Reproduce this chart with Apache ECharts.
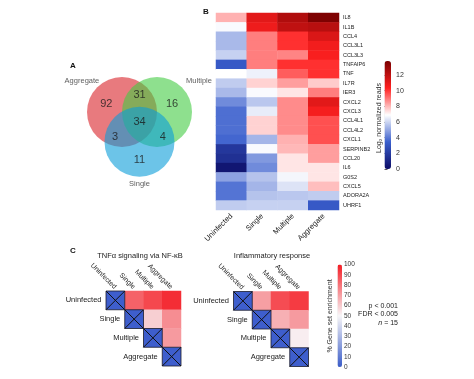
<!DOCTYPE html>
<html><head><meta charset="utf-8">
<script src="https://cdn.jsdelivr.net/npm/echarts@6/dist/echarts.min.js"></script>
<style>html,body{margin:0;padding:0;background:#fff}#c{width:474px;height:379px}</style>
</head><body><div id="c"></div>
<script>
// ---- Panel A: Venn ----
const vennSets = ['Aggregate', 'Multiple', 'Single'];
const vennCircles = [[-1, 0, 2], [1, 0, 2], [0, -1.7, 2]]; // [cx, cy, r] in abstract units
const vennColors = ['rgba(217,33,40,0.6)', 'rgba(67,203,67,0.6)', 'rgba(10,157,217,0.6)'];
const vennCounts = [92, 31, 16, 34, 3, 4, 11];
const vennCountPos = [[-1.9, 0.46], [0, 1.0], [1.86, 0.46], [0, -0.59], [-1.4, -1.41], [1.33, -1.41], [0, -2.74]];
const vennLabelPos = [[-3.29, 1.79], [3.4, 1.79], [0, -4.13]];

// ---- Panel B: heatmap ----
const conditions = ['Uninfected', 'Single', 'Multiple', 'Aggregate'];
const genes = ['IL8','IL1B','CCL4','CCL3L1','CCL3L3','TNFAIP6','TNF','IL7R','IER3','CXCL2','CXCL3','CCL4L1','CCL4L2','CXCL1','SERPINB2','CCL20','IL6','G0S2','CXCL5','ADORA2A','UHRF1'];
const uninfected = [8.1,6.8,5.4,5.4,5.9,3.2,6.9,5.8,5.4,4.4,3.8,3.8,3.8,3.6,1.8,1.5,0.4,4.9,3.9,3.9,5.8];
const single     = [11.1,10.8,8.9,8.9,8.9,8.9,6.6,7.6,6.8,5.7,6.5,7.6,7.6,5.3,6.8,4.7,4.4,5.6,5.3,5.6,5.9];
const multiple   = [12.4,12.0,10.1,10.1,8.8,10.1,9.4,8.4,7.3,8.7,8.7,8.7,8.7,8.1,8.0,7.3,7.3,6.7,6.3,5.7,5.9];
const aggregate  = [13.7,12.2,11.3,10.7,10.5,10.1,10.1,7.7,8.9,11.1,10.6,9.6,9.6,9.6,8.4,8.4,7.3,7.3,7.9,5.8,3.2];
const readTicks = [0, 2, 4, 6, 8, 10, 12];
const readMax = 13.8;

// ---- Panel C: pairwise gene set enrichment (%) ----
const tnfSignaling = [['Single','Uninfected',84],['Multiple','Uninfected',90],['Aggregate','Uninfected',96],
                      ['Multiple','Single',59],['Aggregate','Single',74],['Aggregate','Multiple',71]];
const inflammatory = [['Single','Uninfected',70],['Multiple','Uninfected',89],['Aggregate','Uninfected',93],
                      ['Multiple','Single',66],['Aggregate','Single',71],['Aggregate','Multiple',52]];
const enrichTicks = [0,10,20,30,40,50,60,70,80,90,100];

const FONT = 'Liberation Sans, Arial, sans-serif';
const chart = echarts.init(document.getElementById('c'), null, {renderer: 'canvas'});

const heatB = [];
[uninfected, single, multiple, aggregate].forEach((col, ci) => col.forEach((v, gi) => heatB.push([ci, gi, v])));
const diagData = conditions.map(c => [c, c]);

function diagItem(params, api) {
  const c = api.coord([api.value(0), api.value(1)]);
  const s = api.size([1, 1]);
  const x0 = c[0] - s[0] / 2, y0 = c[1] - s[1] / 2;
  return {type: 'group', children: [
    {type: 'rect', shape: {x: x0, y: y0, width: s[0], height: s[1]}, style: {fill: '#3e5ecd', stroke: '#1a1a2a', lineWidth: 0.8}},
    {type: 'line', shape: {x1: x0, y1: y0, x2: x0 + s[0], y2: y0 + s[1]}, style: {stroke: '#111', lineWidth: 1}},
    {type: 'line', shape: {x1: x0 + s[0], y1: y0, x2: x0, y2: y0 + s[1]}, style: {stroke: '#111', lineWidth: 1}},
    {type: 'text', style: {text: conditions[api.value(1)], x: x0 - 4.5, y: c[1], align: 'right', verticalAlign: 'middle', fontSize: 7.5, fontFamily: FONT, fill: '#222'}}
  ]};
}

const hidden = {show: false};
const catX = (grid) => ({type: 'category', gridIndex: grid, data: conditions, position: 'top',
  axisLine: hidden, axisTick: hidden, splitLine: hidden,
  axisLabel: {rotate: 45, fontSize: 7, fontFamily: FONT, color: '#222', margin: 3, interval: 0}});
const catY = (grid) => ({type: 'category', gridIndex: grid, data: conditions, inverse: true,
  axisLine: hidden, axisTick: hidden, axisLabel: hidden, splitLine: hidden});

const option = {
  backgroundColor: '#fff',
  animation: false,
  grid: [
    {left: 69.5, top: 73.5, width: 140, height: 117.25},   // venn
    {left: 216, top: 13, width: 123, height: 197},         // heatmap B
    {left: 106, top: 291, width: 75, height: 75},          // C1
    {left: 233.5, top: 291.5, width: 75, height: 75},      // C2
    {left: 384.5, top: 61, width: 6.5, height: 108},       // colorbar B axis
    {left: 337.5, top: 264.5, width: 4.5, height: 102.5}   // colorbar C axis
  ],
  xAxis: [
    {type: 'value', gridIndex: 0, min: -4, max: 4, show: false},
    {type: 'category', gridIndex: 1, data: conditions, axisLine: hidden, axisTick: hidden,
     axisLabel: {rotate: 45, fontSize: 7.5, fontFamily: FONT, color: '#222', margin: 5, interval: 0}},
    catX(2), catX(3),
    {type: 'value', gridIndex: 4, show: false},
    {type: 'value', gridIndex: 5, show: false}
  ],
  yAxis: [
    {type: 'value', gridIndex: 0, min: -4.5, max: 2.2, show: false},
    {type: 'category', gridIndex: 1, data: genes, inverse: true, position: 'right',
     axisLine: hidden, axisTick: hidden,
     axisLabel: {fontSize: 5.5, fontFamily: FONT, color: '#222', margin: 4, interval: 0}},
    catY(2), catY(3),
    {type: 'value', gridIndex: 4, min: 0, max: readMax, position: 'right', splitLine: hidden, axisLine: hidden,
     axisTick: {show: true, length: 3, customValues: readTicks, lineStyle: {color: '#333', width: 0.8}},
     axisLabel: {fontSize: 7, fontFamily: FONT, color: '#333', margin: 5, customValues: readTicks}},
    {type: 'value', gridIndex: 5, min: 0, max: 100, interval: 10, position: 'right', splitLine: hidden,
     axisLine: hidden, axisTick: hidden,
     axisLabel: {fontSize: 6.5, fontFamily: FONT, color: '#333', margin: 2, customValues: enrichTicks}}
  ],
  visualMap: [
    {type: 'continuous', seriesIndex: 3, dimension: 2, min: 0, max: readMax, calculable: false,
     left: 384.5, top: 61, itemWidth: 6.5, itemHeight: 108, padding: 0, orient: 'vertical', hoverLink: false,
     inRange: {color: ['#0c0c66', '#3a5fcd', '#ffffff', '#ff2020', '#7a0000']}},
    {type: 'continuous', seriesIndex: [4, 6], dimension: 2, min: 0, max: 100, calculable: false,
     left: 337.5, top: 264.5, itemWidth: 4.5, itemHeight: 102.5, padding: 0, orient: 'vertical', hoverLink: false,
     inRange: {color: ['#3a5cc8', '#f8f6f8', '#f41c24']}}
  ],
  series: [
    {type: 'custom', xAxisIndex: 0, yAxisIndex: 0, data: vennCircles, silent: true,
     renderItem: (params, api) => {
       const c = api.coord([api.value(0), api.value(1)]);
       const r = api.size([api.value(2), 0])[0];
       return {type: 'circle', shape: {cx: c[0], cy: c[1], r: r}, style: {fill: vennColors[params.dataIndex]}};
     }},
    {type: 'scatter', xAxisIndex: 0, yAxisIndex: 0, symbolSize: 0, silent: true,
     data: vennCounts.map((v, i) => ({value: vennCountPos[i], name: String(v)})),
     label: {show: true, position: 'inside', formatter: '{b}', fontSize: 11, fontFamily: FONT, color: '#1a1a1a'}},
    {type: 'scatter', xAxisIndex: 0, yAxisIndex: 0, symbolSize: 0, silent: true,
     data: vennSets.map((s, i) => ({value: vennLabelPos[i], name: s})),
     label: {show: true, position: 'inside', formatter: '{b}', fontSize: 7.5, fontFamily: FONT, color: '#333'}},
    {type: 'heatmap', xAxisIndex: 1, yAxisIndex: 1, data: heatB, silent: true},
    {type: 'heatmap', xAxisIndex: 2, yAxisIndex: 2, data: tnfSignaling, silent: true},
    {type: 'custom', xAxisIndex: 2, yAxisIndex: 2, data: diagData, renderItem: diagItem, silent: true},
    {type: 'heatmap', xAxisIndex: 3, yAxisIndex: 3, data: inflammatory, silent: true},
    {type: 'custom', xAxisIndex: 3, yAxisIndex: 3, data: diagData, renderItem: diagItem, silent: true}
  ],
  graphic: [
    {type: 'text', x: 73, y: 66, style: {text: 'A', fontSize: 8, fontWeight: 'bold', fontFamily: FONT, fill: '#111', align: 'center', verticalAlign: 'middle'}},
    {type: 'text', x: 206, y: 12, style: {text: 'B', fontSize: 8, fontWeight: 'bold', fontFamily: FONT, fill: '#111', align: 'center', verticalAlign: 'middle'}},
    {type: 'text', x: 73, y: 251, style: {text: 'C', fontSize: 8, fontWeight: 'bold', fontFamily: FONT, fill: '#111', align: 'center', verticalAlign: 'middle'}},
    {type: 'text', x: 140, y: 256, style: {text: 'TNFα signaling via NF-κB', fontSize: 7.5, fontFamily: FONT, fill: '#222', align: 'center', verticalAlign: 'middle'}},
    {type: 'text', x: 272, y: 256, style: {text: 'Inflammatory response', fontSize: 7.5, fontFamily: FONT, fill: '#222', align: 'center', verticalAlign: 'middle'}},
    {type: 'text', x: 379, y: 118, rotation: Math.PI / 2, style: {text: 'Log₂ normalized reads', fontSize: 7, fontFamily: FONT, fill: '#333', align: 'center', verticalAlign: 'middle'}},
    {type: 'text', x: 330, y: 316, rotation: Math.PI / 2, style: {text: '% Gene set enrichment', fontSize: 7, fontFamily: FONT, fill: '#333', align: 'center', verticalAlign: 'middle'}},
    {type: 'text', x: 398, y: 306, style: {text: 'p < 0.001', fontSize: 7, fontFamily: FONT, fill: '#222', align: 'right', verticalAlign: 'middle'}},
    {type: 'text', x: 398, y: 314.5, style: {text: 'FDR < 0.005', fontSize: 7, fontFamily: FONT, fill: '#222', align: 'right', verticalAlign: 'middle'}},
    {type: 'text', x: 398, y: 323, style: {text: '{i|n} = 15', fontSize: 7, fontFamily: FONT, fill: '#222', align: 'right', verticalAlign: 'middle',
      rich: {i: {fontStyle: 'italic', fontSize: 7, fontFamily: FONT, fill: '#222'}}}}
  ]
};
chart.setOption(option);
</script>
</body></html>
